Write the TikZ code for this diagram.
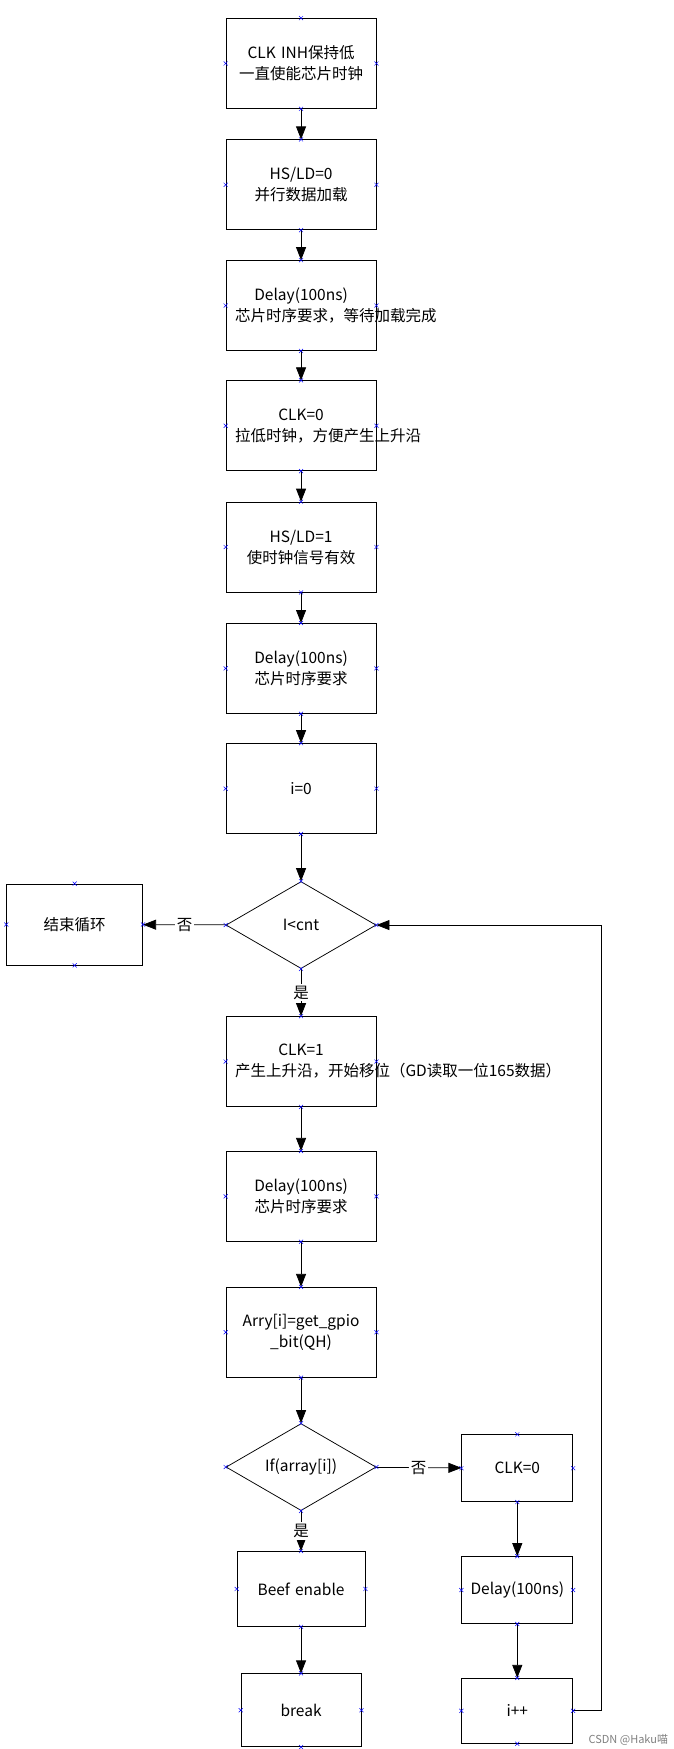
\documentclass[tikz,border=0pt]{standalone}
\usepackage{fontspec}
\setmainfont{Noto Sans CJK SC}
\usetikzlibrary{shapes.geometric,arrows.meta}
\tikzset{every picture/.style={line width=0.75pt}}
\tikzset{
  box/.style={draw, minimum width=150pt, minimum height=90pt, text width=132pt, align=center, font=\fontsize{15.5}{21}\selectfont, inner sep=1pt},
  dia/.style={draw, diamond, aspect=1.72, minimum width=150pt, minimum height=87pt, inner sep=0pt, font=\fontsize{15.5}{21}\selectfont},
  arr/.style={-{Triangle[length=13pt,width=10pt]}},
  lbl/.style={fill=white, font=\fontsize{15.5}{21}\selectfont, inner sep=2pt},
  xpt/.style={blue, line width=0.5pt}
}
\newcommand{\xmark}[1]{\draw[xpt] (#1) +(-2pt,-2pt) -- +(2pt,2pt) +(-2pt,2pt) -- +(2pt,-2pt);}
\begin{document}
\begin{tikzpicture}[x=1.1233pt,y=1.1233pt,yscale=-1]
\useasboundingbox (0,0) rectangle (600,1557);
\node[box] (b1) at (268,56.5) {CLK INH保持低\\一直使能芯片时钟};
\node[box] (b2) at (268,164.5) {HS/LD=0\\并行数据加载};
\node[box] (b3) at (268,272) {Delay(100ns)\\芯片时序要求，等待加载完成};
\node[box] (b4) at (268,379) {CLK=0\\拉低时钟，方便产生上升沿};
\node[box] (b5) at (268,487) {HS/LD=1\\使时钟信号有效};
\node[box] (b6) at (268,595) {Delay(100ns)\\芯片时序要求};
\node[box] (b7) at (268,702) {i=0};
\node[dia] (d1) at (268,823.5) {I<cnt};
\node[box, minimum width=136pt, minimum height=81pt, text width=120pt] (end) at (66.5,823) {结束循环};
\node[box] (b8) at (268,945) {CLK=1\\产生上升沿，开始移位（GD读取一位165数据）};
\node[box] (b9) at (268,1065) {Delay(100ns)\\芯片时序要求};
\node[box] (b10) at (268,1186) {Arry[i]=get\_gpio\\\_bit(QH)};
\node[dia] (d2) at (268,1306) {If(array[i])};
\node[box, minimum width=128pt, minimum height=75pt, text width=120pt] (beef) at (268,1414.5) {Beef enable};
\node[box, minimum width=120pt, minimum height=73pt, text width=110pt] (brk) at (268,1522.5) {break};
\node[box, minimum width=111pt, minimum height=67pt, text width=108pt] (c0) at (460.5,1307) {CLK=0};
\node[box, minimum width=111pt, minimum height=67pt, text width=108pt] (dl) at (460.5,1415.5) {Delay(100ns)};
\node[box, minimum width=111pt, minimum height=65pt, text width=108pt] (inc) at (460.5,1523) {i++};
\coordinate (lp) at (535,1523);
\coordinate (lq) at (535,823.5);
\draw[arr] (b1) -- (b2);
\draw[arr] (b2) -- (b3);
\draw[arr] (b3) -- (b4);
\draw[arr] (b4) -- (b5);
\draw[arr] (b5) -- (b6);
\draw[arr] (b6) -- (b7);
\draw[arr] (b7) -- (d1);
\draw[arr] (d1) -- node[lbl] {否} (end);
\draw[arr] (d1) -- node[lbl] {是} (b8);
\draw[arr] (b8) -- (b9);
\draw[arr] (b9) -- (b10);
\draw[arr] (b10) -- (d2);
\draw[arr] (d2) -- node[lbl] {否} (c0);
\draw[arr] (d2) -- node[lbl] {是} (beef);
\draw[arr] (beef) -- (brk);
\draw[arr] (c0) -- (dl);
\draw[arr] (dl) -- (inc);
\draw[arr] (inc.east) -- (lp) -- (lq) -- (d1.east);
\foreach \n in {b1,b2,b3,b4,b5,b6,b7,d1,end,b8,b9,b10,d2,beef,brk,c0,dl,inc}{
  \xmark{\n.north}\xmark{\n.south}\xmark{\n.east}\xmark{\n.west}
}
\node[gray, font=\fontsize{11}{13}\selectfont, anchor=south east] (wm) at (598,1557) {CSDN @Haku喵};
\end{tikzpicture}
\end{document}
